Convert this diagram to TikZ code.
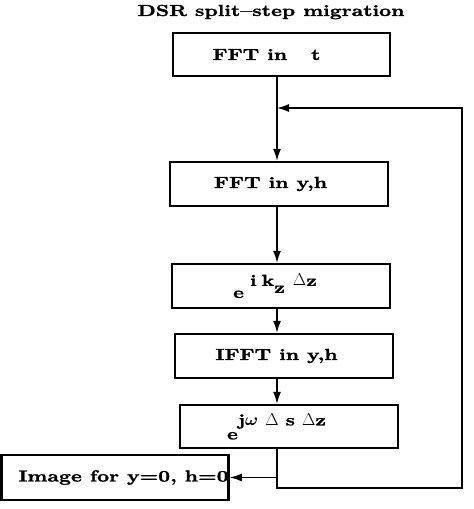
\documentclass[tikz,border=0pt]{standalone}
\usepackage{amsmath}
\usepackage{amssymb}
\usepackage{fontspec}
\setmainfont{lmroman10}[Extension=.otf, UprightFont=*-regular, BoldFont=*-bold,
	FakeStretch=1.3, BoldFeatures={FakeBold=1.5}]
\usepackage{tikz}
\usetikzlibrary{calc,arrows.meta}

\begin{document}
\begin{tikzpicture}[x=1pt,y=-1pt,
		bigbox/.style={draw, line width=2.4pt, minimum width=218pt, minimum height=44pt,
			inner sep=0pt, font=\bfseries\fontsize{16}{19}\selectfont},
		flow/.style={line width=1.3pt},
		>={Latex[length=12pt,width=8pt]}
		]
		\useasboundingbox (0,0) rectangle (474,509);
		
		\node[font=\bfseries\fontsize{16}{19}\selectfont](T) at (271,12){DSR split--step migration};
		\node[bigbox, minimum width=217pt, minimum height=43pt](B1) at (281.5,54.5){FFT in\hspace{24pt}t\kern30pt};
		\node[bigbox](B2) at (279,184){FFT in y,h\kern17pt};
		\node[bigbox](B3) at (281,286){e\hspace{6pt}\raisebox{12pt}{i\hspace{5pt}k\raisebox{-7pt}{z}\hspace{8pt}$\Delta$z}\kern12pt};
		\node[bigbox](B4) at (284,356){IFFT in y,h\kern15pt};
		\node[bigbox, minimum height=43pt](B5) at (289,426.5){e\raisebox{14pt}{j$\boldsymbol{\omega}$\hspace{7pt}$\Delta$\hspace{7pt}s\hspace{7pt}$\Delta$z}\kern25pt};
		\node[bigbox, minimum width=220pt, minimum height=45pt](Img) at (115,477.5){\kern17pt Image for y=0, h=0};
		
		\coordinate (col) at (277,0);
		\coordinate (rc) at (462,488);
		\coordinate (join) at (277,108);
		
		\draw[flow,->] (B1.south -| col) -- (B2.north -| col);
		\draw[flow,->] (B2.south -| col) -- (B3.north -| col);
		\draw[flow,->] (B3.south -| col) -- (B4.north -| col);
		\draw[flow,->] (B4.south -| col) -- (B5.north -| col);
		% loop back
		\draw[flow,->] (B5.south -| col) |- (rc) |- (join);
		\draw[flow,->] (Img.east -| col) -- (Img.east);
	\end{tikzpicture}
\end{document}
